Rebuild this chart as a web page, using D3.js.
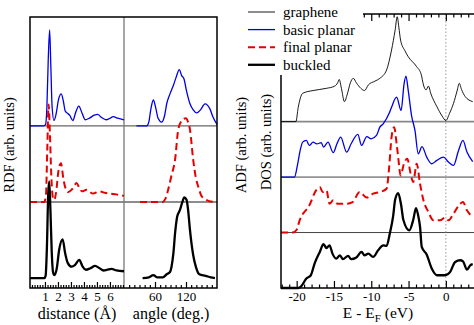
<!DOCTYPE html>
<html>
<head>
<meta charset="utf-8">
<script src="https://cdn.jsdelivr.net/npm/d3@7"></script>
<style>
  body { margin: 0; background: #fff; }
  svg { display: block; font-family: "Liberation Serif", "Times New Roman", serif; }
</style>
</head>
<body>
<div id="app"></div>
<script>
// radial distribution, distance (Å) vs g(r), one curve per structure
let rdfBasic = [[-0.15,0],[0.9,0],[1.05,0.02],[1.15,0.25],[1.25,0.85],[1.36,1.26],[1.45,0.8],[1.55,0.25],[1.69,0.07],[1.85,0.15],[2.05,0.35],[2.25,0.42],[2.42,0.32],[2.55,0.2],[2.7,0.17],[2.9,0.14],[3.15,0.07],[3.35,0.17],[3.6,0.26],[3.85,0.17],[4.1,0.08],[4.4,0.1],[4.8,0.14],[5.05,0.15],[5.35,0.11],[5.7,0.08],[6.0,0.1],[6.25,0.12],[6.6,0.1],[7.08,0.08]]
let rdfFinal = [[-0.15,0],[0.95,0],[1.08,0.1],[1.18,0.7],[1.28,1.28],[1.38,0.9],[1.5,0.3],[1.62,0.05],[1.72,0.03],[1.85,0.12],[2.05,0.42],[2.23,0.51],[2.42,0.3],[2.6,0.17],[2.8,0.13],[3.1,0.17],[3.44,0.25],[3.65,0.18],[3.85,0.14],[4.2,0.16],[4.7,0.11],[5.2,0.14],[5.6,0.12],[6.0,0.11],[6.5,0.1],[7.08,0.08]]
let rdfBuckled = [[-0.15,0],[0.95,0],[1.05,0.03],[1.15,0.4],[1.25,1.1],[1.33,1.27],[1.42,0.9],[1.52,0.35],[1.62,0.08],[1.72,0.04],[1.9,0.12],[2.1,0.38],[2.36,0.51],[2.55,0.33],[2.75,0.2],[3.05,0.15],[3.3,0.17],[3.64,0.24],[3.9,0.15],[4.15,0.11],[4.5,0.13],[4.85,0.16],[5.2,0.13],[5.5,0.1],[5.8,0.11],[6.13,0.12],[6.5,0.1],[7.08,0.09]]

// bond angle distribution, degrees
let adfBasic = [[24,0],[44,0],[48,0.05],[52,0.22],[56.8,0.34],[61,0.25],[66,0.1],[73,0.05],[78,0.12],[83,0.3],[89,0.42],[95.5,0.53],[101,0.64],[107,0.74],[111.6,0.66],[116,0.62],[121,0.46],[127.7,0.29],[134,0.21],[140.6,0.17],[148,0.21],[156.8,0.29],[166.5,0.22],[172,0.12],[180,0.02]]
let adfFinal = [[31,0],[75,0],[80,0.04],[85,0.15],[92,0.35],[98.7,0.55],[105,0.95],[112,1.07],[119.6,1.1],[124,1.05],[127.7,0.95],[134,0.55],[139,0.32],[143.8,0.2],[150,0.08],[156.8,0.04],[165,0.01],[180,0]]
let adfBuckled = [[36,0],[48,0.01],[56.8,0.04],[64,0.01],[75,0.01],[82.6,0.05],[89,0.08],[92,0.15],[95.5,0.32],[99,0.6],[103,0.81],[108,0.89],[113,1.0],[116.7,1.06],[121,1.03],[124,0.9],[127.7,0.63],[134,0.3],[139,0.15],[145.8,0.05],[158,0.03],[168,0.01],[176,0]]

// density of states, E - E_F (eV)
let dosGraphene = [[-22.1,0],[-20.1,0],[-19.8,0.25],[-19.2,0.51],[-17.8,0.56],[-16.0,0.6],[-14.9,0.64],[-14.5,0.7],[-14.3,0.76],[-14.0,0.6],[-13.6,0.36],[-13.2,0.5],[-12.8,0.7],[-12.4,0.78],[-12.0,0.7],[-11.4,0.6],[-10.9,0.56],[-10.4,0.66],[-9.5,0.73],[-8.85,0.78],[-7.95,0.93],[-7.28,1.29],[-6.8,1.65],[-6.52,1.89],[-6.3,1.7],[-6.07,1.47],[-5.5,1.28],[-5.04,1.17],[-3.91,0.99],[-3.3,0.85],[-3.0,0.66],[-2.65,0.57],[-2.34,0.64],[-2.0,0.5],[-1.2,0.27],[-0.5,0.1],[0,0.02],[0.5,0.15],[1.03,0.33],[1.5,0.55],[1.8,0.69],[2.1,0.58],[2.6,0.45],[3.6,0.36]]
let dosBasic = [[-22.1,0],[-20.3,0],[-19.9,0.21],[-19.5,0.5],[-19.2,0.63],[-18.7,0.66],[-18.3,0.57],[-17.8,0.63],[-17.3,0.6],[-16.7,0.62],[-16.4,0.54],[-15.8,0.63],[-15.1,0.44],[-14.6,0.6],[-14.1,0.72],[-13.3,0.45],[-12.7,0.6],[-11.8,0.77],[-11.3,0.57],[-10.6,0.73],[-10.0,0.69],[-9.3,0.75],[-8.85,0.9],[-8.4,0.96],[-7.6,1.15],[-7.28,1.26],[-6.6,1.44],[-6.0,1.2],[-5.6,1.68],[-5.35,1.82],[-5.04,1.56],[-4.6,1.11],[-4.14,0.84],[-3.7,0.42],[-3.2,0.55],[-2.56,0.36],[-1.9,0.24],[-1.21,0.3],[-0.32,0.36],[0.35,0.27],[1.03,0.21],[1.7,0.48],[2.29,0.66],[2.83,0.45],[3.6,0.28]]
let dosFinal = [[-22.1,0],[-20.5,0],[-20.0,0.05],[-19.6,0.22],[-18.3,0.49],[-17.4,0.76],[-16.9,0.82],[-16.5,0.73],[-16.0,0.76],[-15.6,0.52],[-15.1,0.58],[-14.5,0.52],[-13.3,0.52],[-12.5,0.55],[-11.55,0.73],[-10.6,0.63],[-9.76,0.7],[-8.85,0.73],[-7.95,0.79],[-7.6,1.18],[-7.28,1.72],[-6.93,1.9],[-6.6,1.6],[-6.39,1.36],[-6.07,1.03],[-5.62,1.24],[-5.17,1.33],[-4.72,1.06],[-4.37,0.91],[-3.91,1.24],[-3.46,0.88],[-3.0,0.58],[-2.34,0.37],[-1.67,0.22],[-0.77,0.22],[-0.1,0.27],[0.35,0.22],[1.03,0.34],[1.93,0.52],[2.29,0.55],[2.83,0.4],[3.6,0.28]]
let dosBuckled = [[-22.1,0],[-19.8,0],[-19.4,0.03],[-18.7,0.17],[-18.1,0.23],[-17.6,0.44],[-16.9,0.65],[-16.4,0.79],[-16.0,0.72],[-15.6,0.77],[-15.2,0.62],[-14.7,0.53],[-14.2,0.59],[-13.8,0.52],[-13.1,0.58],[-12.7,0.52],[-12.0,0.55],[-11.3,0.65],[-10.9,0.59],[-10.4,0.62],[-9.76,0.56],[-9.08,0.68],[-8.4,0.77],[-7.95,0.76],[-7.5,0.99],[-7.06,1.3],[-6.8,1.59],[-6.39,1.71],[-6.0,1.5],[-5.7,1.23],[-4.9,1.04],[-4.37,1.23],[-4.0,1.44],[-3.7,1.3],[-3.46,1.1],[-3.23,0.74],[-2.56,0.6],[-1.89,0.35],[-1.21,0.23],[-0.1,0.23],[0.58,0.29],[1.25,0.47],[1.93,0.5],[2.3,0.48],[2.83,0.33],[3.27,0.41],[3.6,0.43]]

let distTicks = [1, 2, 3, 4, 5, 6]
let angleTicks = [60, 120]
let energyTicks = [-20, -15, -10, -5, 0]
let legendLabels = ["graphene", "basic planar", "final planar", "buckled"]

// line styles per structure
let styles = {
  graphene: {stroke: "#000", width: 0.9, dash: null},
  basic: {stroke: "#0000e6", width: 1.3, dash: null},
  final: {stroke: "#e60000", width: 2, dash: "7,4"},
  buckled: {stroke: "#000", width: 2.3, dash: null}
}

let width = 474, height = 325

let svg = d3.select("#app").append("svg")
    .attr("width", width)
    .attr("height", height)

// left panel: RDF | ADF stacked with offsets
let left = {x0: 30, x1: 217, mid: 124, top: 17, bottom: 288}
let xDist = d3.scaleLinear().domain([-0.15, 7.08]).range([left.x0, left.mid])
let xAngle = d3.scaleLinear().domain([0, 180]).range([left.mid, left.x1])
let yLeft = d3.scaleLinear().domain([-0.13, 3.43]).range([left.bottom, left.top])

// right panel: DOS
let right = {x0: 281, x1: 474, top: 14, bottom: 288}
let xE = d3.scaleLinear().domain([-22.1, 3.6]).range([right.x0, 472.7])
let yDos = d3.scaleLinear().domain([0, 4.94]).range([right.bottom, right.top])

function drawCurve(data, x, y, offset, st) {
  let line = d3.line()
      .x(d => x(d[0]))
      .y(d => y(d[1] + offset))
      .curve(d3.curveMonotoneX)
  svg.append("path")
      .datum(data)
      .attr("d", line)
      .attr("fill", "none")
      .attr("stroke", st.stroke)
      .attr("stroke-width", st.width)
      .attr("stroke-dasharray", st.dash)
      .attr("stroke-linejoin", "round")
}

// baselines between stacked curves
svg.selectAll(".lbase")
    .data([1, 2])
    .enter().append("line")
    .attr("x1", left.x0).attr("x2", left.x1)
    .attr("y1", d => yLeft(d)).attr("y2", d => yLeft(d))
    .attr("stroke", "#666").attr("stroke-width", 1.3)

svg.append("line")
    .attr("x1", left.mid).attr("x2", left.mid)
    .attr("y1", left.top).attr("y2", left.bottom)
    .attr("stroke", "#777").attr("stroke-width", 1.3)

svg.selectAll(".rbase")
    .data([1, 2, 3])
    .enter().append("line")
    .attr("x1", right.x0).attr("x2", right.x1)
    .attr("y1", d => yDos(d)).attr("y2", d => yDos(d))
    .attr("stroke", d => d == 3 ? "#888" : "#444")
    .attr("stroke-width", d => d == 3 ? 1.6 : 1)

// Fermi level
svg.append("line")
    .attr("x1", xE(0)).attr("x2", xE(0))
    .attr("y1", right.top).attr("y2", right.bottom)
    .attr("stroke", "#999").attr("stroke-width", 1)
    .attr("stroke-dasharray", "1.5,2")

drawCurve(rdfBasic, xDist, yLeft, 2, styles.basic)
drawCurve(rdfFinal, xDist, yLeft, 1, styles.final)
drawCurve(rdfBuckled, xDist, yLeft, 0, styles.buckled)
drawCurve(adfBasic, xAngle, yLeft, 2, styles.basic)
drawCurve(adfFinal, xAngle, yLeft, 1, styles.final)
drawCurve(adfBuckled, xAngle, yLeft, 0, styles.buckled)

drawCurve(dosGraphene, xE, yDos, 3, styles.graphene)
drawCurve(dosBasic, xE, yDos, 2, styles.basic)
drawCurve(dosFinal, xE, yDos, 1, styles.final)
drawCurve(dosBuckled, xE, yDos, 0, styles.buckled)

// axes: minor ticks, then labelled major ticks
function tickAxis(scale, vals, size, y, labels, orient) {
  let ax = (orient == "top" ? d3.axisTop(scale) : d3.axisBottom(scale))
      .tickValues(vals)
      .tickSizeOuter(0)
      .tickSizeInner(-size)
      .tickPadding(4)
      .tickFormat(labels ? (d => String(d)) : "")
  let g = svg.append("g")
      .attr("transform", "translate(0," + y + ")")
      .call(ax)
  g.select(".domain").remove()
  g.selectAll(".tick line").attr("stroke", "#000").attr("stroke-width", 1.2)
  g.selectAll("text")
      .attr("fill", "#000")
      .attr("font-family", "Liberation Serif")
      .attr("font-size", 13)
  return g
}

tickAxis(xDist, d3.range(0, 7.01, 0.2).filter(v => Math.abs(v - Math.round(v)) > 0.01 || Math.round(v) == 0 || Math.round(v) == 7), 3, left.bottom, false)
tickAxis(xDist, distTicks, 6, left.bottom, true)
tickAxis(xAngle, d3.range(10, 180, 10).filter(v => !angleTicks.includes(v)), 3, left.bottom, false)
tickAxis(xAngle, angleTicks, 6, left.bottom, true)

let minorE = d3.range(-22, 4, 1).filter(v => !energyTicks.includes(v))
tickAxis(xE, minorE, 3.5, right.bottom, false)
tickAxis(xE, energyTicks, 7, right.bottom, true)
tickAxis(xE, minorE.filter(v => xE(v) > 363), 3.5, right.top, false, "top")
tickAxis(xE, energyTicks.filter(v => xE(v) > 363), 7, right.top, false, "top")

// frames
svg.append("rect")
    .attr("x", left.x0).attr("y", left.top)
    .attr("width", left.x1 - left.x0).attr("height", left.bottom - left.top)
    .attr("fill", "none").attr("stroke", "#000").attr("stroke-width", 1.5)

svg.append("path")
    .attr("d", `M${right.x0},75V${right.bottom}H${right.x1}M363,${right.top}H${right.x1}`)
    .attr("fill", "none").attr("stroke", "#000").attr("stroke-width", 1.5)

// legend, on a white box over the panel corner
let legend = svg.append("g")
legend.append("rect")
    .attr("x", 236).attr("y", 0).attr("width", 127).attr("height", 74)
    .attr("fill", "#fff")
let legendStyles = [styles.graphene, styles.basic, styles.final, styles.buckled]
let item = legend.selectAll(".item")
    .data(legendLabels)
    .enter().append("g")
    .attr("transform", (d, i) => "translate(0," + (12 + i * 17.6) + ")")
item.append("line")
    .attr("x1", 248).attr("x2", 275)
    .attr("stroke", (d, i) => legendStyles[i].stroke)
    .attr("stroke-width", (d, i) => legendStyles[i].width)
    .attr("stroke-dasharray", (d, i) => legendStyles[i].dash)
item.append("text")
    .attr("x", 283).attr("y", 5)
    .attr("font-size", 15)
    .text(d => d)

// axis titles
svg.append("text")
    .attr("x", 77).attr("y", 318.5)
    .attr("text-anchor", "middle").attr("font-size", 16)
    .text("distance (Å)")
svg.append("text")
    .attr("x", 171).attr("y", 318.5)
    .attr("text-anchor", "middle").attr("font-size", 16)
    .text("angle (deg.)")

let eLabel = svg.append("text")
    .attr("x", 378).attr("y", 318)
    .attr("text-anchor", "middle").attr("font-size", 15.5)
eLabel.append("tspan").text("E - E")
eLabel.append("tspan").attr("font-size", 11).attr("dy", 4).text("F")
eLabel.append("tspan").attr("dy", -4).text(" (eV)")

let yTitles = [["RDF (arb. units)", 9, 145], ["ADF (arb. units)", 240.5, 145], ["DOS (arb. units)", 265.5, 142]]
svg.selectAll(".ytitle")
    .data(yTitles)
    .enter().append("text")
    .attr("transform", d => "translate(" + d[1] + "," + d[2] + ") rotate(-90)")
    .attr("text-anchor", "middle")
    .attr("dominant-baseline", "central")
    .attr("font-size", 14.5)
    .text(d => d[0])
</script>
</body>
</html>
